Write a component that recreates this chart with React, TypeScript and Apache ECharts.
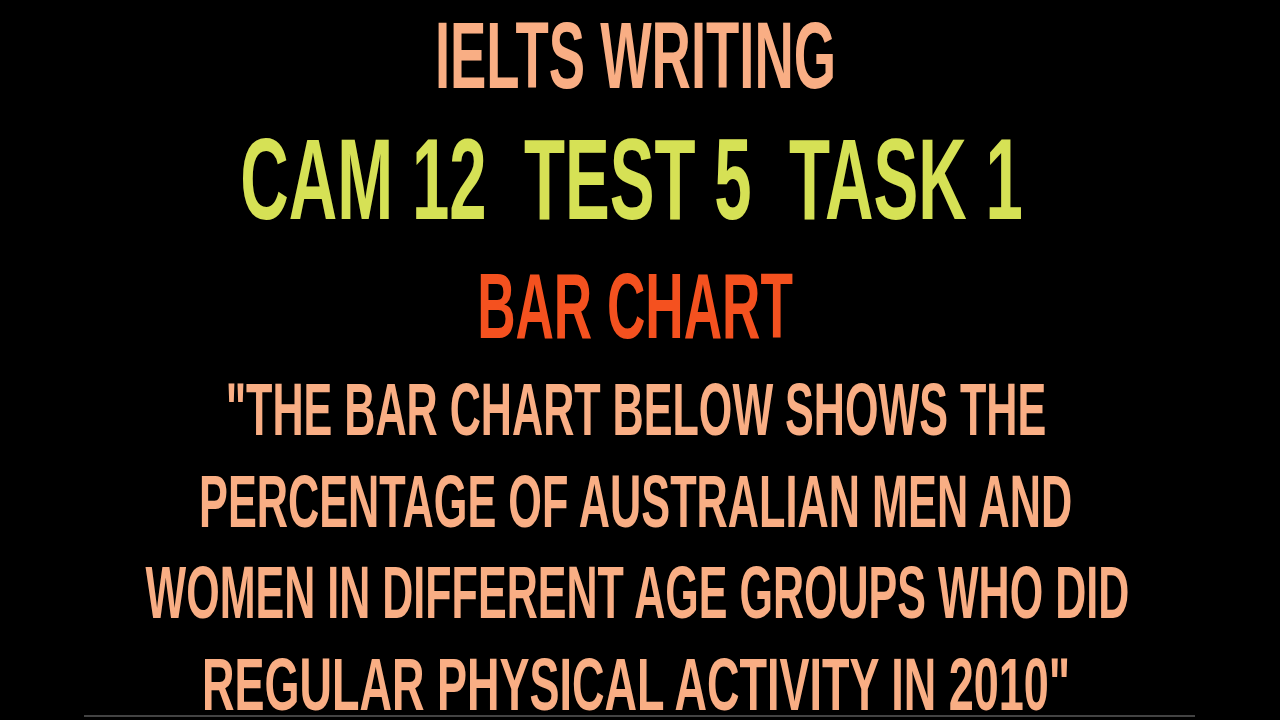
import * as echarts from 'echarts';
import { useEffect, useRef } from 'react';

// text of the title card
const headingLines = ['IELTS WRITING', 'CAM 12  TEST 5  TASK 1', 'BAR CHART'];
const promptLines = [
  '"THE BAR CHART BELOW SHOWS THE',
  'PERCENTAGE OF AUSTRALIAN MEN AND',
  'WOMEN IN DIFFERENT AGE GROUPS WHO DID',
  'REGULAR PHYSICAL ACTIVITY IN 2010"',
];

const FONT_FAMILY = '"Liberation Sans Narrow", "Liberation Sans", Arial, sans-serif';
const FONT_SIZE = 72;

// ink box of each line in the picture: [left, right, capTop, capBottom]
const headingBoxes = [
  [438, 833, 22, 88],
  [242, 1022, 139, 219],
  [480, 793, 273, 338],
];
const headingColors = ['#f9ae84', '#d6e155', '#f4511f'];
const promptBoxes = [
  [228, 1045, 383, 435],
  [200, 1072, 476, 527],
  [145, 1128, 567, 618],
  [203, 1069, 658, 710],
];
const promptColor = '#f9ae84';

function measure(text: string) {
  const ctx = document.createElement('canvas').getContext('2d')!;
  ctx.font = `bold ${FONT_SIZE}px ${FONT_FAMILY}`;
  const m = ctx.measureText(text);
  const h = ctx.measureText('H');
  return {
    ink: m.actualBoundingBoxLeft + m.actualBoundingBoxRight,
    inkCenter: (m.actualBoundingBoxRight - m.actualBoundingBoxLeft) / 2,
    advance: m.width,
    cap: h.actualBoundingBoxAscent,
  };
}

// one line of text, stretched so its ink fills the given box
function lineText(text: string, box: number[], color: string) {
  const [left, right, top, bottom] = box;
  const m = measure(text);
  const sx = (right - left) / m.ink;
  const sy = (bottom - top) / m.cap;
  return {
    type: 'text',
    x: (left + right) / 2 - (m.inkCenter - m.advance / 2) * sx,
    y: (top + bottom) / 2,
    scaleX: sx,
    scaleY: sy,
    silent: true,
    style: {
      text,
      x: 0,
      y: 0,
      align: 'center',
      verticalAlign: 'middle',
      fontFamily: FONT_FAMILY,
      fontWeight: 'bold',
      fontSize: FONT_SIZE,
      lineHeight: Math.round(m.cap),
      fill: color,
    },
  };
}

export default function App() {
  const container = useRef<HTMLDivElement | null>(null);

  useEffect(() => {
    if (!container.current) return;
    const chart = echarts.init(container.current, null, { renderer: 'svg' });
    chart.setOption({
      animation: false,
      backgroundColor: '#000000',
      graphic: [
        ...headingLines.map((t, i) => lineText(t, headingBoxes[i], headingColors[i])),
        ...promptLines.map((t, i) => lineText(t, promptBoxes[i], promptColor)),
        {
          type: 'line',
          silent: true,
          shape: { x1: 84, y1: 716, x2: 1195, y2: 716 },
          style: { stroke: '#5a5a5a', lineWidth: 1.5 },
        },
      ],
    } as echarts.EChartsOption);
    return () => chart.dispose();
  }, []);

  return (
    <div
      ref={container}
      style={{ position: 'fixed', left: 0, top: 0, width: 1280, height: 720, background: '#000' }}
    />
  );
}
